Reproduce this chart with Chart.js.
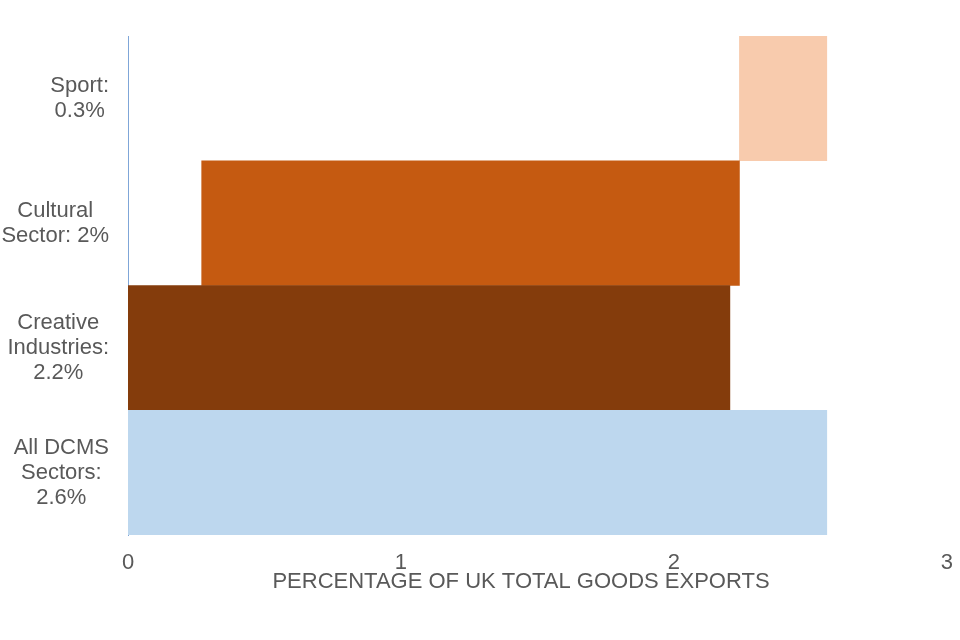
<!DOCTYPE html>
<html>
<head>
<meta charset="utf-8">
<script src="https://cdn.jsdelivr.net/npm/chart.js@4/dist/chart.umd.min.js"></script>
<style>
  html, body { margin: 0; padding: 0; background: #ffffff; }
  #wrap { width: 960px; height: 640px; }
</style>
</head>
<body>
<div id="wrap"><canvas id="exportsChart"></canvas></div>
<script>
// Sectors, top to bottom, with label lines as shown
const sectorLabels = [
    ['Sport:', '0.3%'],
    ['Cultural', 'Sector: 2%'],
    ['Creative', 'Industries:', '2.2%'],
    ['All DCMS', 'Sectors:', '2.6%']
];
// waterfall: where each bar starts and ends (% of UK total goods exports)
const barStarts = [2.24, 0.27, 0, 0];
const barEnds = [2.56, 2.24, 2.205, 2.56];
const barColors = ['#F8CBAD', '#C55A11', '#843C0C', '#BDD7EE'];
const xTicks = [0, 1, 2, 3];
const xTitle = 'PERCENTAGE OF UK TOTAL GOODS EXPORTS';

const textColor = '#595959';
const fontFamily = '"Liberation Sans", Arial, sans-serif';

// y labels: each one centred on itself, right edge lined up
const sideLabels = {
    id: 'sideLabels',
    afterDraw(chart) {
        const ctx = chart.ctx;
        const yScale = chart.scales.y;
        const area = chart.chartArea;
        ctx.save();
        ctx.font = '22px ' + fontFamily;
        ctx.fillStyle = textColor;
        ctx.textAlign = 'center';
        ctx.textBaseline = 'middle';
        const lineH = 25;
        sectorLabels.forEach((lines, i) => {
            const y = yScale.getPixelForTick(i);
            const w = Math.max(...lines.map(l => ctx.measureText(l).width));
            const cx = 109 - w / 2;
            const top = y - (lines.length - 1) * lineH / 2;
            lines.forEach((l, j) => ctx.fillText(l, cx, top + j * lineH));
        });
        // axis title
        ctx.fillText(xTitle, 521, area.bottom + 47);
        ctx.restore();
    }
};

const ctx = document.getElementById('exportsChart').getContext('2d');
new Chart(ctx, {
    type: 'bar',
    data: {
        labels: sectorLabels,
        datasets: [{
            data: barStarts.map((s, i) => [s, barEnds[i]]),
            backgroundColor: barColors,
            borderWidth: 0,
            barPercentage: 1,
            categoryPercentage: 1
        }]
    },
    options: {
        indexAxis: 'y',
        responsive: true,
        maintainAspectRatio: false,
        animation: false,
        layout: { padding: { top: 36, right: 1, left: 0, bottom: 0 } },
        plugins: {
            legend: { display: false },
            tooltip: { enabled: false }
        },
        scales: {
            x: {
                min: 0,
                max: 3,
                afterBuildTicks: axis => { axis.ticks = xTicks.map(v => ({ value: v })); },
                afterFit: axis => { axis.height = 105; },
                grid: { display: false },
                border: { display: false },
                ticks: {
                    color: textColor,
                    font: { family: fontFamily, size: 22 },
                    padding: 7
                }
            },
            y: {
                afterFit: axis => { axis.width = 128; },
                grid: { display: false },
                border: { display: true, color: '#7FA6D8', width: 1 },
                ticks: { display: false }
            }
        }
    },
    plugins: [sideLabels]
});
</script>
</body>
</html>
